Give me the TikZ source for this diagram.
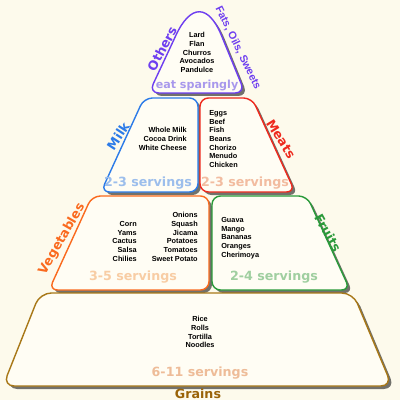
\documentclass[tikz,border=0pt]{standalone}
\usepackage{fontspec}
\setmainfont{DejaVu Sans}
\newfontfamily\lf{Liberation Sans}
\definecolor{bg}{HTML}{FDFAEC}
\definecolor{boxfill}{HTML}{FFFDF4}
\definecolor{shadowc}{HTML}{5A5A55}
\definecolor{othC}{HTML}{6E3EF0}
\definecolor{othL}{HTML}{A898EC}
\definecolor{milkC}{HTML}{2C7BE8}
\definecolor{milkL}{HTML}{9CBEEC}
\definecolor{meatC}{HTML}{EE2A1E}
\definecolor{meatL}{HTML}{F2BCA0}
\definecolor{vegC}{HTML}{FA6A1E}
\definecolor{vegL}{HTML}{F8CDA4}
\definecolor{fruC}{HTML}{2A9A3A}
\definecolor{fruL}{HTML}{A0CFA0}
\definecolor{graC}{HTML}{A87818}
\definecolor{graT}{HTML}{9A6308}
\definecolor{graL}{HTML}{EEBC98}
\tikzset{
  boxline/.style={draw=#1, line width=1pt, fill=boxfill},
  shadowbox/.style={fill=shadowc, fill opacity=0.85},
  listtext/.style={inner sep=0pt, font=\lf\bfseries\fontsize{5.2}{6.2}\selectfont},
  servtext/.style={inner sep=0pt, text=#1, font=\bfseries\fontsize{9}{10}\selectfont},
  grouplabel/.style={inner sep=0pt, text=#1, font=\bfseries\fontsize{9}{10}\selectfont},
}
\def\othpath{(149,93) -- (171.6,44.6) .. controls (190.5,3.8) and (208.4,3.8) .. (225.2,44.6) -- (245,93) -- cycle}
\def\milkpath{(144,98) -- (198,98) -- (198,192) -- (101,192) -- cycle}
\def\meatpath{(200,98) -- (252,98) -- (295,192) -- (200,192) -- cycle}
\def\vegpath{(92,196) -- (209,196) -- (209,290) -- (49,290) -- cycle}
\def\frupath{(212,196) -- (307,196) -- (350,290) -- (212,290) -- cycle}
\def\grapath{(40,293) -- (353,293) -- (392,386) -- (3,386) -- cycle}
\begin{document}
\begin{tikzpicture}[x=0.025cm,y=-0.025cm]
\fill[bg] (0,0) rectangle (400,400);
\useasboundingbox (0,0) rectangle (400,400);
% shadows
\begin{scope}[shift={(3,3)}]
\fill[shadowbox, rounded corners=7pt] \othpath;
\fill[shadowbox, rounded corners=6pt] \milkpath;
\fill[shadowbox, rounded corners=6pt] \meatpath;
\fill[shadowbox, rounded corners=6pt] \vegpath;
\fill[shadowbox, rounded corners=6pt] \frupath;
\fill[shadowbox, rounded corners=8pt] \grapath;
\end{scope}
% boxes
\draw[boxline=othC, rounded corners=7pt] \othpath;
\draw[boxline=milkC, rounded corners=6pt] \milkpath;
\draw[boxline=meatC, rounded corners=6pt] \meatpath;
\draw[boxline=vegC, rounded corners=6pt] \vegpath;
\draw[boxline=fruC, rounded corners=6pt] \frupath;
\draw[boxline=graC, rounded corners=8pt] \grapath;
% Others
\node[listtext, anchor=north, align=center] (othlist) at (197,32) {Lard\\Flan\\Churros\\Avocados\\Pandulce};
\node[servtext=othL, font=\bfseries\fontsize{7.9}{9}\selectfont] (othserv) at (197,85) {eat sparingly};
\node[grouplabel=othC, rotate=62] (othlab) at (162,49) {Others};
\node[grouplabel=othC, rotate=-64, font=\lf\bfseries\fontsize{7.6}{9}\selectfont] (fatlab) at (238,48) {Fats, Oils, Sweets};
% Milk
\node[listtext, anchor=north east, align=right] (milklist) at (187,127) {Whole Milk\\Cocoa Drink\\White Cheese};
\node[servtext=milkL] (milkserv) at (148,183) {2-3 servings};
\node[grouplabel=milkC, rotate=57] (milklab) at (118,136) {Milk};
% Meats
\node[listtext, anchor=north west, align=left] (meatlist) at (209,110) {Eggs\\Beef\\Fish\\Beans\\Chorizo\\Menudo\\Chicken};
\node[servtext=meatL] (meatserv) at (245,183) {2-3 servings};
\node[grouplabel=meatC, rotate=-58] (meatlab) at (281,139) {Meats};
% Vegetables
\node[listtext, anchor=north east, align=right] (veglist1) at (137,221) {Corn\\Yams\\Cactus\\Salsa\\Chilies};
\node[listtext, anchor=north east, align=right] (veglist2) at (198,212) {Onions\\Squash\\Jicama\\Potatoes\\Tomatoes\\Sweet Potato};
\node[servtext=vegL] (vegserv) at (133,277) {3-5 servings};
\node[grouplabel=vegC, rotate=60] (veglab) at (62,239) {Vegetables};
% Fruits
\node[listtext, anchor=north west, align=left] (frulist) at (221,217) {Guava\\Mango\\Bananas\\Oranges\\Cherimoya};
\node[servtext=fruL] (fruserv) at (274,277) {2-4 servings};
\node[grouplabel=fruC, rotate=-61] (frulab) at (328,233) {Fruits};
% Grains
\node[listtext, anchor=north, align=center] (gralist) at (200,316) {Rice\\Rolls\\Tortilla\\Noodles};
\node[servtext=graL] (graserv) at (200,373) {6-11 servings};
\node[grouplabel=graT] (gralab) at (198,394) {Grains};
\end{tikzpicture}
\end{document}
